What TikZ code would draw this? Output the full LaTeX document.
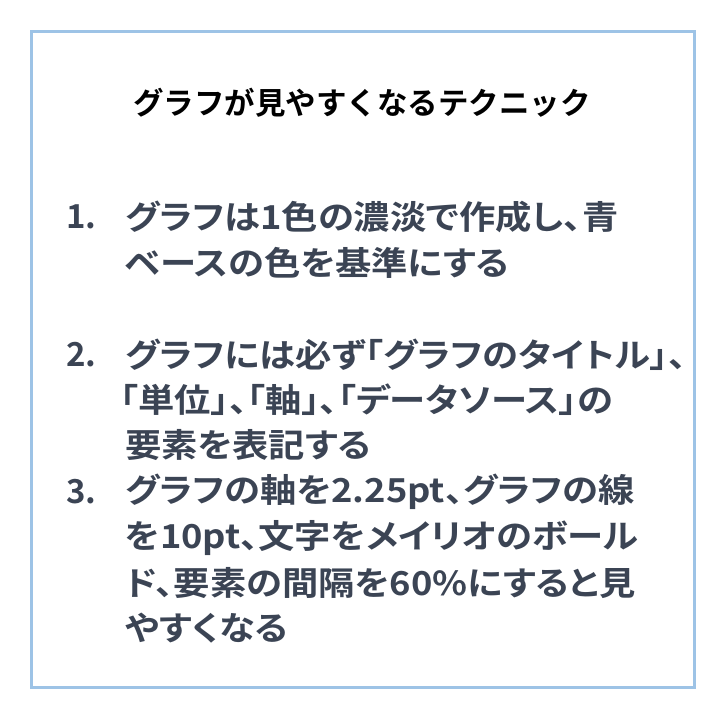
\documentclass[tikz,border=0pt]{standalone}
\usepackage{fontspec}
\newfontfamily\jp[RawFeature=+palt]{Noto Sans CJK JP Bold}
\newfontfamily\jpt{Noto Sans CJK JP Bold}
\definecolor{txt}{HTML}{3B4454}
\definecolor{frame}{HTML}{9DC3E6}
\begin{document}
\begin{tikzpicture}[x=1pt,y=-1pt,
  ln/.style={anchor=west,inner sep=0pt,text=txt,font=\jp\fontsize{33}{33}\selectfont,xscale=1.1,transform shape},
  num/.style={anchor=west,inner sep=0pt,text=txt,font=\jp\fontsize{33}{33}\selectfont}]
\useasboundingbox (0,0) rectangle (720,720);
\draw[frame,line width=3pt] (31,31) rectangle (694,687);
\node[inner sep=0pt,font=\jpt\fontsize{30.5}{30.5}\selectfont] (t) at (362,103) {グラフが見やすくなるテクニック};
\node[num] (n1) at (66,217) {1.};
\node[ln] (a1) at (125,217) {グラフは1色の濃淡で作成し、青};
\node[ln] (a2) at (125,263) {ベースの色を基準にする};
\node[num] (n2) at (66,355) {2.};
\node[ln] (b1) at (125,355) {グラフには必ず「グラフのタイトル」、};
\node[ln] (b2) at (120,400) {「単位」、「軸」、「データソース」の};
\node[ln] (b3) at (125,445) {要素を表記する};
\node[num] (n3) at (66,492) {3.};
\node[ln] (c1) at (125,492) {グラフの軸を2.25pt、グラフの線};
\node[ln] (c2) at (125,538) {を10pt、文字をメイリオのボール};
\node[ln] (c3) at (125,583) {ド、要素の間隔を60\%にすると見};
\node[ln] (c4) at (125,628) {やすくなる};
\end{tikzpicture}
\end{document}
